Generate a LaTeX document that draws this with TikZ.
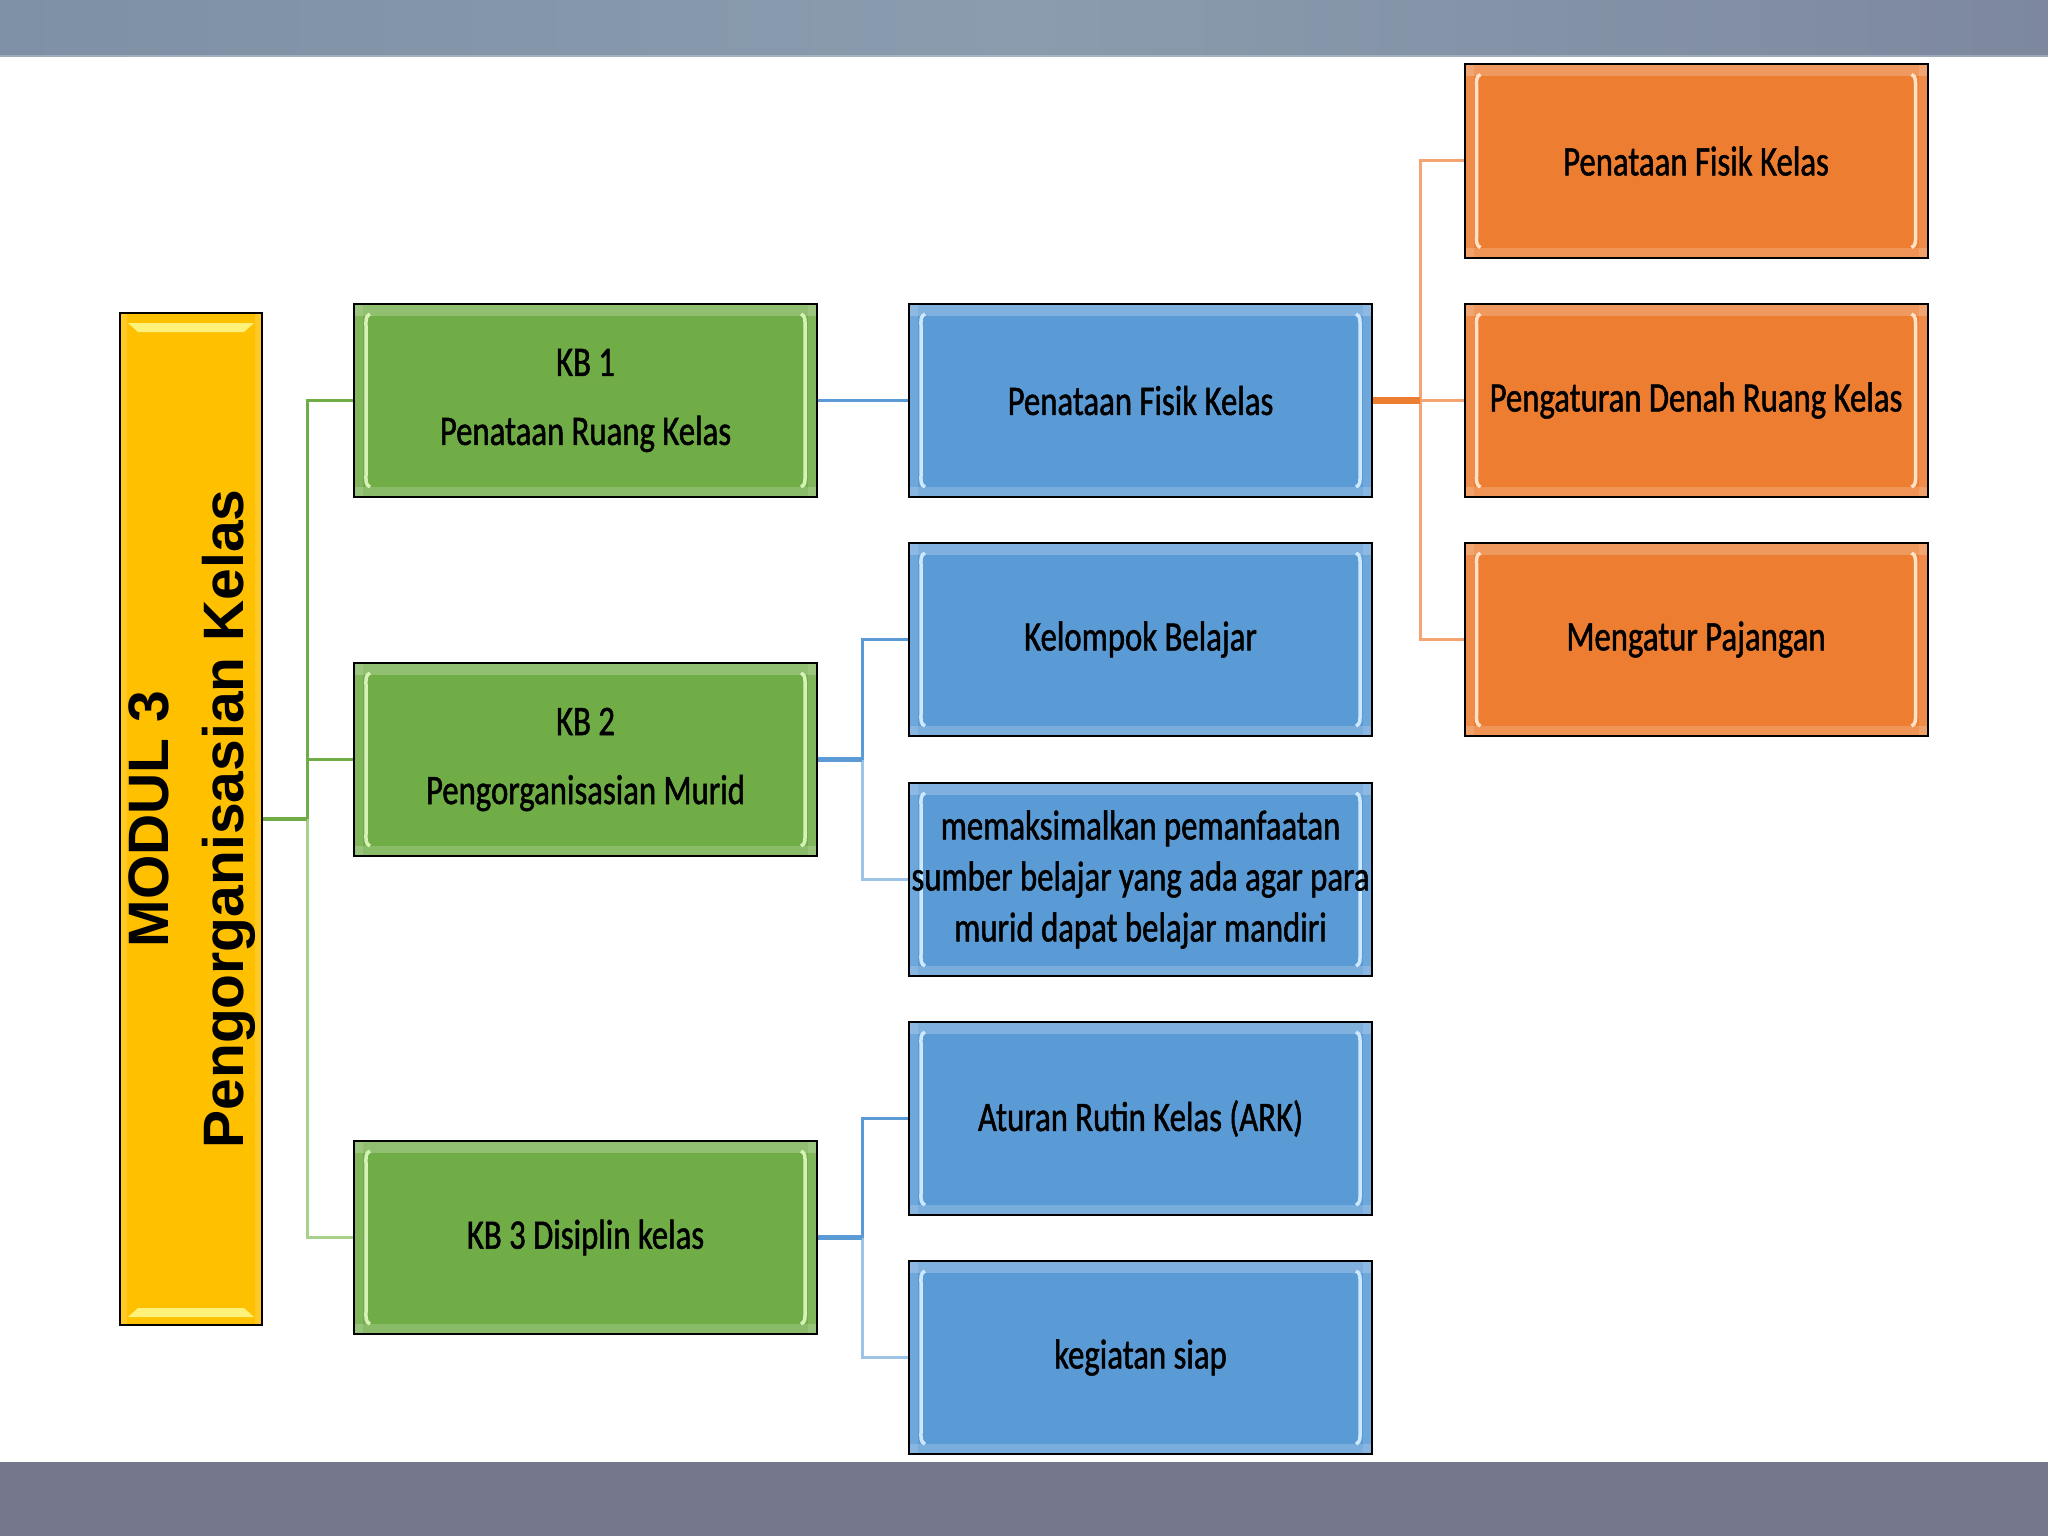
\documentclass[tikz,border=0pt]{standalone}
\usepackage{fontspec}
\setmainfont{Carlito}[FakeStretch=0.78,FakeBold=1.2]
\newfontfamily\modfont{Liberation Sans}
\usetikzlibrary{calc}
\definecolor{cgreen}{HTML}{70AD47}
\definecolor{cgreenL}{HTML}{A9D18E}
\definecolor{cgreenH}{HTML}{D6F2B8}
\definecolor{cblue}{HTML}{5B9BD5}
\definecolor{cblueL}{HTML}{9DC3E6}
\definecolor{cblueH}{HTML}{CDE8FF}
\definecolor{corange}{HTML}{ED7D31}
\definecolor{corangeL}{HTML}{F4A572}
\definecolor{corangeH}{HTML}{FFE3C8}
\definecolor{cyellow}{HTML}{FFC000}
\definecolor{cyellowH}{HTML}{FFF27A}
\definecolor{barTopA}{HTML}{7E90A5}
\definecolor{barTopB}{HTML}{8A9CAE}
\definecolor{barTopC}{HTML}{7D889F}
\definecolor{barBot}{HTML}{75778C}
\pgfdeclarelayer{bg}
\pgfsetlayers{bg,main}
\tikzset{
  bevelw/.style={path picture={
    \fill[white,opacity=.22] (path picture bounding box.north west) rectangle ([yshift=-12pt]path picture bounding box.north east);
    \fill[white,opacity=.18] (path picture bounding box.south west) rectangle ([yshift=10pt]path picture bounding box.south east);
    \fill[white,opacity=.12] (path picture bounding box.north west) rectangle ([xshift=9pt]path picture bounding box.south west);
    \fill[white,opacity=.12] (path picture bounding box.north east) rectangle ([xshift=-9pt]path picture bounding box.south east);
    \draw[#1,line width=3.5pt]
      ([shift={(16pt,-10pt)}]path picture bounding box.north west) to[out=200,in=90]
      ([shift={(12pt,-22pt)}]path picture bounding box.north west) --
      ([shift={(12pt,22pt)}]path picture bounding box.south west) to[out=-90,in=160]
      ([shift={(16pt,10pt)}]path picture bounding box.south west);
    \draw[#1,line width=3.5pt]
      ([shift={(-16pt,-10pt)}]path picture bounding box.north east) to[out=-20,in=90]
      ([shift={(-12pt,-22pt)}]path picture bounding box.north east) --
      ([shift={(-12pt,22pt)}]path picture bounding box.south east) to[out=-90,in=20]
      ([shift={(-16pt,10pt)}]path picture bounding box.south east);
  }},
  boxbase/.style={draw=black,line width=2pt,minimum width=463pt,minimum height=193pt,
    inner sep=0pt,align=center,font=\fontsize{42}{51}\selectfont},
  greenbox/.style={boxbase,fill=cgreen,bevelw=cgreenH},
  bluebox/.style={boxbase,fill=cblue,bevelw=cblueH},
  orangebox/.style={boxbase,fill=corange,bevelw=corangeH},
  yellowbox/.style={draw=black,line width=2pt,minimum width=142pt,minimum height=1012pt,
    inner sep=0pt,fill=cyellow,
    font=\modfont\bfseries\fontsize{57}{75}\selectfont,
    path picture={
      \fill[cyellowH] ([shift={(8pt,-10pt)}]path picture bounding box.north west) --
        ([shift={(-8pt,-10pt)}]path picture bounding box.north east) --
        ([shift={(-18pt,-19pt)}]path picture bounding box.north east) --
        ([shift={(18pt,-19pt)}]path picture bounding box.north west) -- cycle;
      \fill[cyellowH] ([shift={(8pt,8pt)}]path picture bounding box.south west) --
        ([shift={(-8pt,8pt)}]path picture bounding box.south east) --
        ([shift={(-18pt,17pt)}]path picture bounding box.south east) --
        ([shift={(18pt,17pt)}]path picture bounding box.south west) -- cycle;
      \fill[white,opacity=.15] (path picture bounding box.north west) rectangle ([xshift=7pt]path picture bounding box.south west);
      \fill[white,opacity=.15] (path picture bounding box.north east) rectangle ([xshift=-7pt]path picture bounding box.south east);
    }},
  gstub/.style={draw=cgreen,line width=4.5pt},
  gline/.style={draw=cgreen,line width=3pt},
  glineL/.style={draw=cgreenL,line width=3pt},
  bstub/.style={draw=cblue,line width=5pt},
  bline/.style={draw=cblue,line width=3pt},
  blineL/.style={draw=cblueL,line width=3pt},
  ostub/.style={draw=corange,line width=7pt},
  oline/.style={draw=corangeL,line width=3pt},
}
\begin{document}
\begin{tikzpicture}[x=1pt,y=-1pt]
\useasboundingbox (0,0) rectangle (2048,1536);
\begin{pgfonlayer}{bg}
  \fill[white] (0,0) rectangle (2048,1536);
  \shade[left color=barTopA,right color=barTopC,middle color=barTopB] (0,0) rectangle (2048,57);
  \fill[white,opacity=.25] (0,55) rectangle (2048,58);
  \fill[barBot] (0,1462) rectangle (2048,1536);
\end{pgfonlayer}

% level 0
\node[yellowbox] (Y) at (191,819) {\makebox[0pt]{\rotatebox{90}{\begin{tabular}{@{}c@{}}MODUL 3\\Pengorganisasian Kelas\end{tabular}}}};

% level 1
\node[greenbox] (K1) at (585.5,400.5) {KB 1\\[18pt]Penataan Ruang Kelas};
\node[greenbox] (K2) at (585.5,759.5) {KB 2\\[18pt]Pengorganisasian Murid};
\node[greenbox] (K3) at (585.5,1237.5) {KB 3 Disiplin kelas};

% level 2
\node[bluebox] (B1) at (1140.5,400.5) {Penataan Fisik Kelas};
\node[bluebox] (B2) at (1140.5,639.5) {Kelompok Belajar};
\node[bluebox] (B3) at (1140.5,879.5) {memaksimalkan pemanfaatan\\sumber belajar yang ada agar para\\murid dapat belajar mandiri};
\node[bluebox] (B4) at (1140.5,1118.5) {Aturan Rutin Kelas (ARK)};
\node[bluebox] (B5) at (1140.5,1357.5) {kegiatan siap};

% level 3
\node[orangebox] (O1) at (1696,161) {Penataan Fisik Kelas};
\node[orangebox] (O2) at (1696,400.5) {Pengaturan Denah Ruang Kelas};
\node[orangebox] (O3) at (1696,639.5) {Mengatur Pajangan};

% connectors
\coordinate (gb) at (307,819);
\coordinate (bb2) at (862,759.5);
\coordinate (bb3) at (862,1237.5);
\coordinate (ob) at (1420,400.5);
\begin{pgfonlayer}{bg}
  \draw[gline] (gb) |- (K1.west);
  \draw[gline] (gb) |- (K2.west);
  \draw[glineL] (gb) |- (K3.west);
  \draw[gstub] (Y.east) -- (gb);

  \draw[bline] (K1.east) -- (B1.west);

  \draw[bline] (bb2) |- (B2.west);
  \draw[blineL] (bb2) |- (B3.west);
  \draw[bstub] (K2.east) -- (bb2);

  \draw[bline] (bb3) |- (B4.west);
  \draw[blineL] (bb3) |- (B5.west);
  \draw[bstub] (K3.east) -- (bb3);

  \draw[oline] (ob) |- (O1.west);
  \draw[oline] (ob) |- (O3.west);
  \draw[oline] (ob) -- (O2.west);
  \draw[ostub] (B1.east) -- (ob);
\end{pgfonlayer}
\end{tikzpicture}
\end{document}
